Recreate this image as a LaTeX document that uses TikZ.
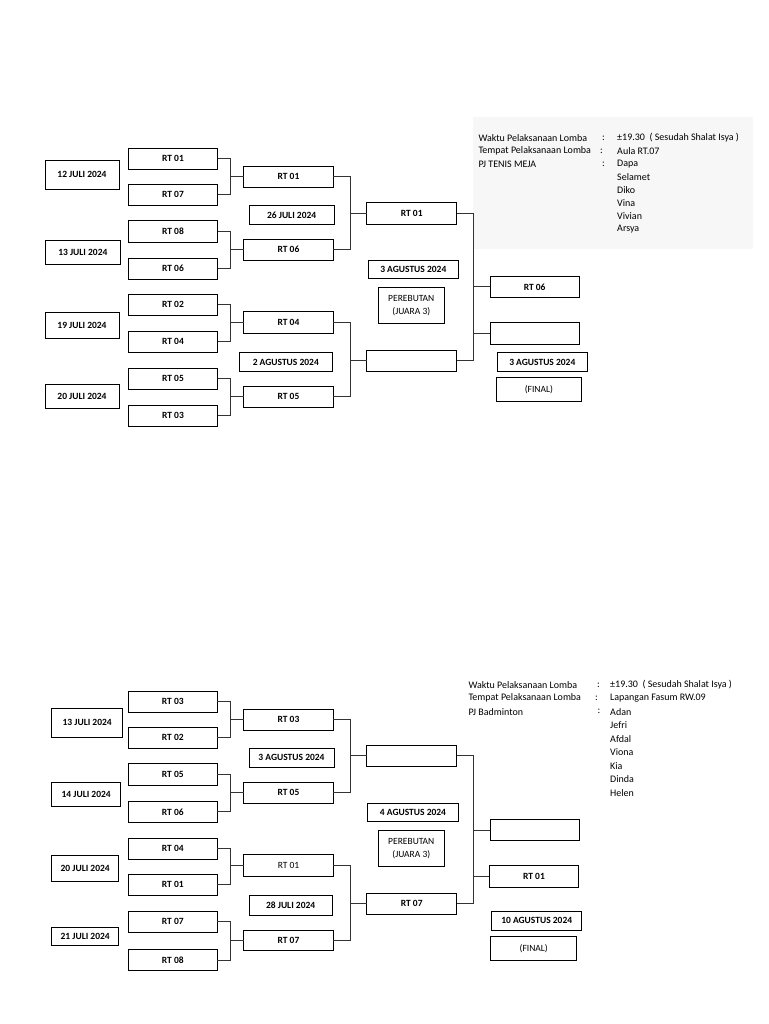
\documentclass[tikz,border=0pt]{standalone}
\usepackage{fontspec}
\setmainfont{Carlito}
\usetikzlibrary{calc}
\definecolor{bgpanel}{HTML}{F7F7F7}
\definecolor{conn}{HTML}{333333}
\tikzset{
  box/.style={draw=black, line width=0.9pt, inner sep=0pt, outer sep=0pt, align=center,
              font=\fontsize{9.5}{11}\selectfont\bfseries},
  plainbox/.style={box, font=\fontsize{9.5}{11}\selectfont},
  wire/.style={draw=conn, line width=0.9pt},
  info/.style={anchor=west, inner sep=0pt, font=\fontsize{10}{12}\selectfont},
}
\newcommand\bx[7][box]{\node[#1, minimum width={(#5-#3)*1pt}, minimum height={(#6-#4)*1pt}] (#2) at ({(#3+#5)/2},{(#4+#6)/2}) {#7};}
\newcommand\pairjoin[4]{%
  \draw[wire] (#1.east) -- ++(#4,0) coordinate (j#1) |- (#2.east);
  \draw[wire] (j#1 |- #3.west) -- (#3.west);}
\begin{document}
\begin{tikzpicture}[x=1pt,y=-1pt]
\useasboundingbox (0,0) rectangle (768,1024);
\fill[bgpanel] (473,117) rectangle (752.7,249);

% ---------- TOP BRACKET ----------
\bx{td1}{45}{160}{119}{189}{12 JULI 2024}
\bx{td2}{45.7}{240}{120}{264}{13 JULI 2024}
\bx{td3}{45}{312.7}{119}{338}{19 JULI 2024}
\bx{td4}{45}{384}{119}{408}{20 JULI 2024}

\bx{ta1}{128.3}{148}{217.7}{169.3}{RT 01}
\bx{ta2}{128.3}{184}{217.7}{205.7}{RT 07}
\bx{ta3}{128.3}{220.7}{217.7}{242}{RT 08}
\bx{ta4}{128.3}{258}{217.7}{279.3}{RT 06}
\bx{ta5}{128.3}{294}{217.7}{315.7}{RT 02}
\bx{ta6}{128.3}{331}{217.7}{352}{RT 04}
\bx{ta7}{128.3}{368}{217.7}{389}{RT 05}
\bx{ta8}{128.3}{405}{217.7}{426.7}{RT 03}

\bx{tb1}{243.7}{166}{333.3}{187.3}{RT 01}
\bx{tb2}{243.7}{239}{333.3}{260}{RT 06}
\bx{tb3}{243.7}{311.7}{333.3}{333.3}{RT 04}
\bx{tb4}{243.7}{386}{333.3}{407.7}{RT 05}
\bx{tdb1}{249}{205.3}{334.3}{224.3}{26 JULI 2024}
\bx{tdb2}{239.3}{352.7}{332.3}{371.7}{2 AGUSTUS 2024}

\bx{tc1}{366.7}{202.3}{456.7}{224}{RT 01}
\bx{tc2}{366.7}{350}{456.7}{371.7}{}
\bx{tdc}{368.3}{260}{458.3}{278.7}{3 AGUSTUS 2024}
\bx[plainbox]{tper}{378.3}{287.3}{444.3}{323.3}{PEREBUTAN\\[2pt](JUARA 3)}

\bx{tf1}{490}{276}{579.3}{297.7}{RT 06}
\bx{tf2}{490}{322.7}{579.3}{344.3}{}
\bx{tfd}{497.3}{352.7}{587.3}{371.7}{3 AGUSTUS 2024}
\bx[plainbox]{tfin}{496}{377.3}{581.7}{401.7}{(FINAL)}

\pairjoin{ta1}{ta2}{tb1}{12.3}
\pairjoin{ta3}{ta4}{tb2}{12.3}
\pairjoin{ta5}{ta6}{tb3}{12.3}
\pairjoin{ta7}{ta8}{tb4}{12.3}
\pairjoin{tb1}{tb2}{tc1}{17.4}
\pairjoin{tb3}{tb4}{tc2}{17.4}
\draw[wire] (tc1.east) -- ++(16.6,0) coordinate (jtc) |- (tc2.east);
\draw[wire] (jtc |- tf1.west) -- (tf1.west);
\draw[wire] (jtc |- tf2.west) -- (tf2.west);

% top info
\node[info] (ti1) at (478.3,138) {Waktu Pelaksanaan Lomba};
\node[info] (ti2) at (478.3,151) {Tempat Pelaksanaan Lomba};
\node[info] (ti3) at (478.3,164) {PJ TENIS MEJA};
\node[info] (tk1) at (602,138) {:};
\node[info] (tk2) at (600,151) {:};
\node[info] (tk3) at (602,164) {:};
\node[info] (tv1) at (617,138) {±19.30\ \ ( Sesudah Shalat Isya )};
\node[info] (tv2) at (617,151) {Aula RT.07};
\node[info] (tv3) at (617,164) {Dapa};
\node[info] (tv4) at (617,177) {Selamet};
\node[info] (tv5) at (617,190) {Diko};
\node[info] (tv6) at (617,203) {Vina};
\node[info] (tv7) at (617,216.5) {Vivian};
\node[info] (tv8) at (617,229.5) {Arsya};

% ---------- BOTTOM BRACKET ----------
\bx{bd1}{51.7}{708.3}{122.7}{737.3}{13 JULI 2024}
\bx{bd2}{51.7}{782.7}{120.7}{806}{14 JULI 2024}
\bx{bd3}{51.7}{855.7}{118.7}{881}{20 JULI 2024}
\bx{bd4}{51.7}{927.3}{118.7}{945.7}{21 JULI 2024}

\bx{ba1}{128.3}{691}{217.3}{712.3}{RT 03}
\bx{ba2}{128.3}{727.3}{217.3}{748.3}{RT 02}
\bx{ba3}{128.3}{763.7}{217.3}{785}{RT 05}
\bx{ba4}{128.3}{801.3}{217.3}{822.3}{RT 06}
\bx{ba5}{128.3}{838}{217.3}{859.3}{RT 04}
\bx{ba6}{128.3}{874.3}{217.3}{895.3}{RT 01}
\bx{ba7}{128.3}{911.3}{217.3}{932.3}{RT 07}
\bx{ba8}{128.3}{949.3}{217.3}{970.7}{RT 08}

\bx{bb1}{243.7}{709.3}{333.3}{730}{RT 03}
\bx{bb2}{243.7}{782.3}{333.3}{803.3}{RT 05}
\bx[plainbox]{bb3}{243.7}{854.7}{333.3}{876}{RT 01}
\bx{bb4}{243.7}{930}{333.3}{950.7}{RT 07}
\bx{bdb1}{249}{748.3}{334}{767.3}{3 AGUSTUS 2024}
\bx{bdb2}{249}{895.7}{332.3}{915}{28 JULI 2024}

\bx{bc1}{366.7}{745}{456.7}{766.7}{}
\bx{bc2}{366.7}{893.3}{456.7}{914.3}{RT 07}
\bx{bdc}{367.7}{803.3}{458.3}{821.7}{4 AGUSTUS 2024}
\bx[plainbox]{bper}{378.3}{830}{444.3}{866.7}{PEREBUTAN\\[2pt](JUARA 3)}

\bx{bf1}{490}{819.3}{579.3}{840.7}{}
\bx{bf2}{489.3}{865.7}{578.7}{887.3}{RT 01}
\bx{bfd}{491.7}{911.7}{581.7}{930}{10 AGUSTUS 2024}
\bx[plainbox]{bfin}{490.7}{936.7}{576.7}{960}{(FINAL)}

\pairjoin{ba1}{ba2}{bb1}{12.7}
\pairjoin{ba3}{ba4}{bb2}{12.7}
\pairjoin{ba5}{ba6}{bb3}{12.7}
\pairjoin{ba7}{ba8}{bb4}{12.7}
\pairjoin{bb1}{bb2}{bc1}{17.4}
\pairjoin{bb3}{bb4}{bc2}{17.4}
\draw[wire] (bc1.east) -- ++(16.6,0) coordinate (jbc) |- (bc2.east);
\draw[wire] (jbc |- bf1.west) -- (bf1.west);
\draw[wire] (jbc |- bf2.west) -- (bf2.west);

% bottom info
\node[info] (bi1) at (468.3,685) {Waktu Pelaksanaan Lomba};
\node[info] (bi2) at (468.3,698.3) {Tempat Pelaksanaan Lomba};
\node[info] (bi3) at (468.3,711.7) {PJ Badminton};
\node[info] (bk1) at (597,685) {:};
\node[info] (bk2) at (595,698.3) {:};
\node[info] (bk3) at (597.5,711.7) {:};
\node[info] (bv1) at (610,685) {±19.30\ \ ( Sesudah Shalat Isya )};
\node[info] (bv2) at (610,698.3) {Lapangan Fasum RW.09};
\node[info] (bv3) at (610,711.7) {Adan};
\node[info] (bv4) at (610,725) {Jefri};
\node[info] (bv5) at (610,738.7) {Afdal};
\node[info] (bv6) at (610,752) {Viona};
\node[info] (bv7) at (610,765.7) {Kia};
\node[info] (bv8) at (610,779.3) {Dinda};
\node[info] (bv9) at (610,792.7) {Helen};
\end{tikzpicture}
\end{document}
